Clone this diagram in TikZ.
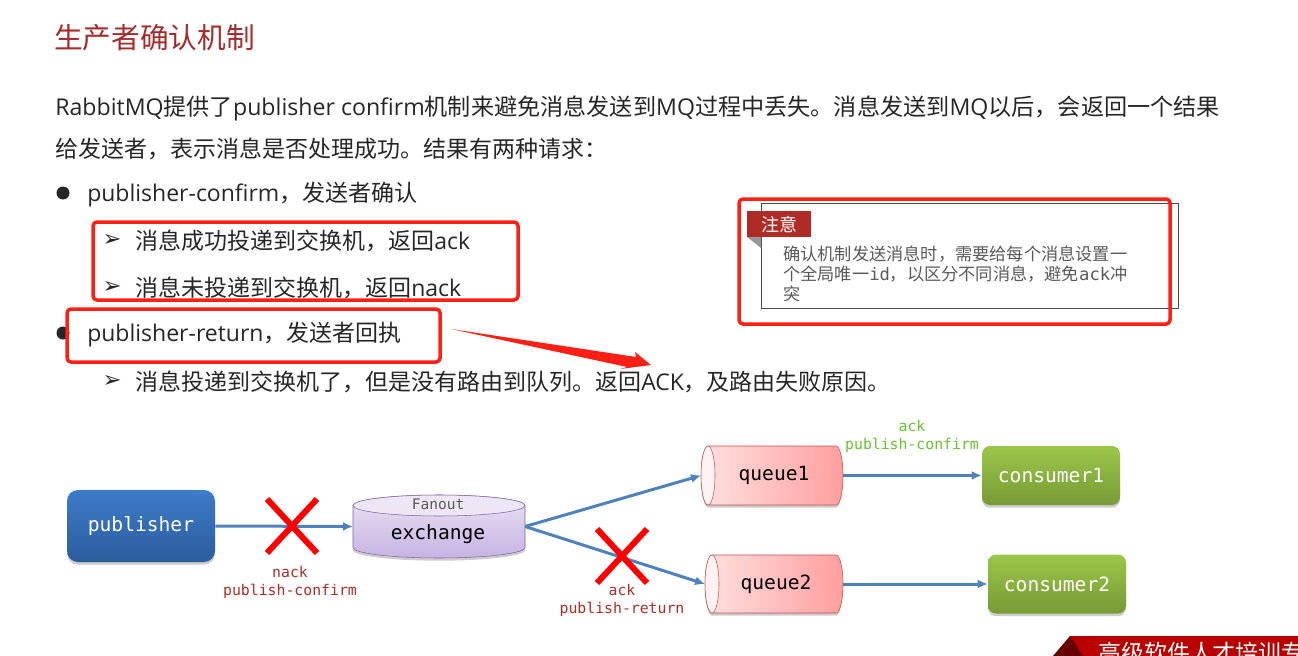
\documentclass[tikz,border=0pt]{standalone}
\usepackage{fontspec}
\setmainfont{Noto Sans CJK SC}
\setmonofont{DejaVu Sans Mono}
\newfontfamily\arrowfont{DejaVu Sans}
\newfontfamily\lat{Open Sans}
\usetikzlibrary{arrows.meta,shapes.misc,shadows}
\def\px{0.75pt}
\definecolor{mytitle}{HTML}{A52A2A}
\definecolor{myred}{HTML}{AE2B26}
\definecolor{mybox}{HTML}{FF2015}
\definecolor{myflow}{HTML}{4F81BD}
\definecolor{mygreen}{HTML}{66C32E}
\definecolor{myviolet}{HTML}{8064A2}
\definecolor{myqueue}{HTML}{C0504D}
\begin{document}
\begin{tikzpicture}[
  x=0.75pt,
  y=-0.75pt,
  mytext/.style={anchor=west,inner sep=0pt,text=black!85,font=\fontsize{17.25}{17.25}\selectfont},
  mybullet/.style={circle,fill=black!85,inner sep=0pt,minimum size=13*\px},
  mysub/.style={anchor=center,inner sep=0pt,text=black!85,font=\arrowfont\fontsize{17}{17}\selectfont},
  redbox/.style={draw=mybox,line width=3.5*\px,rounded corners=4*\px},
  mylabel/.style={align=center,inner sep=0pt,font=\ttfamily\fontsize{11.1}{13.5}\selectfont},
  myflowline/.style={draw=myflow,line width=3*\px,-{Latex[length=10*\px,width=9*\px]}},
  mycross/.style={cross out,draw=red,line width=6*\px,inner sep=0pt,outer sep=0pt,minimum width=50*\px,minimum height=54*\px},
  softshadow/.style={drop shadow={shadow xshift=0pt,shadow yshift=-2pt,opacity=.2,fill=black}},
  mymono/.style={inner sep=0pt,font=\ttfamily\fontsize{14.7}{14.7}\selectfont},
  mynodebox/.style={mymono,rounded corners=8*\px,text=white,softshadow},
  publisherbox/.style={mynodebox,rounded corners=11*\px,top color={rgb,255:red,61;green,124;blue,201},bottom color={rgb,255:red,44;green,93;blue,156},minimum width=148*\px,minimum height=72*\px},
  consumerbox/.style={mynodebox,top color={rgb,255:red,156;green,198;blue,74},bottom color={rgb,255:red,120;green,154;blue,53},minimum width=138*\px,minimum height=59*\px},
  queueshape/.style={draw=myqueue,left color=red!12,right color=red!38,softshadow},
  queuebox/.style={mymono,outer sep=0pt}
]
% text
\node[anchor=west,inner sep=0pt,text=mytitle,font=\fontsize{21.5}{21.5}\selectfont] (title) at (54,38) {生产者确认机制};
\node[mytext,font=\fontsize{17.35}{17.35}\selectfont] (line1) at (55,108) {{\lat RabbitMQ}提供了{\lat publisher confirm}机制来避免消息发送到{\lat MQ}过程中丢失。消息发送到{\lat MQ}以后，会返回一个结果};
\node[mytext] (line2) at (55,149) {给发送者，表示消息是否处理成功。结果有两种请求：};
\node[mybullet] (dot1) at (63,193) {};
\node[mybullet] (dot2) at (63,333) {};
\node[mytext] (confirm) at (87,195) {{\lat publisher-confirm}，发送者确认};
\node[mysub] (mark1) at (112,240) {➢};
\node[mytext] (confirm1) at (135,241) {消息成功投递到交换机，返回{\lat ack}};
\node[mysub] (mark2) at (112,287) {➢};
\node[mytext] (confirm2) at (135,288) {消息未投递到交换机，返回{\lat nack}};
\node[mytext] (return) at (87,335) {{\lat publisher-return}，发送者回执};
\node[mysub] (mark3) at (112,381) {➢};
\node[mytext] (return1) at (135,382) {消息投递到交换机了，但是没有路由到队列。返回{\lat ACK}，及路由失败原因。};
% note
\node[draw=black!70,minimum width=417*\px,minimum height=105*\px,inner sep=0pt] (note) at (969.5,255.5) {};
\fill[black!40] (747,237) -- (761,237) -- (761,248) -- cycle;
\node[fill=myred,text=white,minimum width=64*\px,minimum height=26*\px,inner sep=0pt,font=\fontsize{13.5}{13.5}\selectfont] (tag) at (779,224) {注意};
\node[anchor=north west,align=left,inner sep=0pt,text=black!65,font=\fontsize{12.9}{15}\selectfont] (notetext) at (783,245.5) {确认机制发送消息时，需要给每个消息设置一\\个全局唯一{\ttfamily id}，以区分不同消息，避免{\ttfamily ack}冲\\突};
% red marks
\node[redbox,minimum width=425*\px,minimum height=78*\px] (box1) at (305.5,261) {};
\node[redbox,minimum width=373*\px,minimum height=53*\px] (box2) at (253.5,335.5) {};
\node[redbox,minimum width=431*\px,minimum height=125*\px] (box3) at (954.5,261.5) {};
\coordinate (tail) at (451,329);
\coordinate (tip) at (651,365);
\fill[mybox] (tail) -- (636,357) -- (635,352) -- (tip) -- (620,369) -- (627,367) -- cycle;
% diagram
\shade[draw=myviolet,top color={rgb,255:red,233;green,226;blue,243},bottom color={rgb,255:red,198;green,179;blue,226},softshadow] (353,505.5) -- (353,547.5) arc [start angle=180,end angle=0,x radius=86,y radius=10.5] -- (525,505.5) arc [start angle=0,end angle=-180,x radius=86,y radius=10.5] -- cycle;
\draw[draw=myviolet,fill={rgb,255:red,236;green,230;blue,245}] (439,505.5) ellipse [x radius=86,y radius=10.5];
\shade[queueshape] (708,446) -- (836,446) arc [start angle=-90,end angle=90,x radius=7,y radius=29.5] -- (708,505) arc [start angle=90,end angle=270,x radius=7,y radius=29.5] -- cycle;
\shade[queueshape] (712,555) -- (836,555) arc [start angle=-90,end angle=90,x radius=7,y radius=29] -- (712,613) arc [start angle=90,end angle=270,x radius=7,y radius=29] -- cycle;
\draw[draw=myqueue,fill=red!5] (708,475.5) ellipse [x radius=7,y radius=29.5];
\draw[draw=myqueue,fill=red!5] (712,584) ellipse [x radius=7,y radius=29];
\node[publisherbox] (publisher) at (141,526) {\raisebox{-.75pt}{publisher}};
\node[inner sep=0pt,outer sep=0pt,minimum width=172*\px,minimum height=63*\px] (exchange) at (439,526.5) {};
\node[queuebox,minimum width=142*\px,minimum height=59*\px] (queue1) at (772,475.5) {\hspace{3pt}\raisebox{-1.2pt}{queue1}};
\node[queuebox,minimum width=138*\px,minimum height=58*\px] (queue2) at (774,584) {\hspace{3pt}\raisebox{-1.2pt}{queue2}};
\node[consumerbox] (consumer1) at (1051,475.5) {consumer1};
\node[consumerbox] (consumer2) at (1057,584) {consumer2};
\draw[myflowline] (publisher.east) -- (exchange.west);
\draw[myflowline] (exchange.east) -- (queue1.west);
\draw[myflowline] (exchange.east) -- (queue2.west);
\draw[myflowline] (queue1.east) -- (consumer1.west);
\draw[myflowline] (queue2.east) -- (consumer2.west);
\node[inner sep=0pt,text=black!65,font=\ttfamily\fontsize{10.9}{10.9}\selectfont] (fanout) at (438,504) {Fanout};
\node[mymono] (exchangetext) at (438,534.5) {exchange};
\node[mycross] (cross1) at (292,526) {};
\node[mycross] (cross2) at (622,556) {};
\node[mylabel,text=myred] (nack) at (290,582.5) {nack\\publish-confirm};
\node[mylabel,text=myred] (ackreturn) at (622,600.5) {ack\\publish-return};
\node[mylabel,text=mygreen] (ackconfirm) at (912,436.5) {ack\\publish-confirm};
% footer
\begin{scope}
\clip (0,0) rectangle (1298,656);
\fill[red!72!black] (1070,636) rectangle (1298,656);
\fill[red!40!black] (1053,656) -- (1070,636) -- (1083,656) -- cycle;
\node[anchor=west,inner sep=0pt,text=white,font=\fontsize{17.2}{17.2}\selectfont] (footer) at (1098,652.5) {高级软件人才培训专};
\end{scope}
\useasboundingbox (0,0) rectangle (1298,656);
\end{tikzpicture}
\end{document}
